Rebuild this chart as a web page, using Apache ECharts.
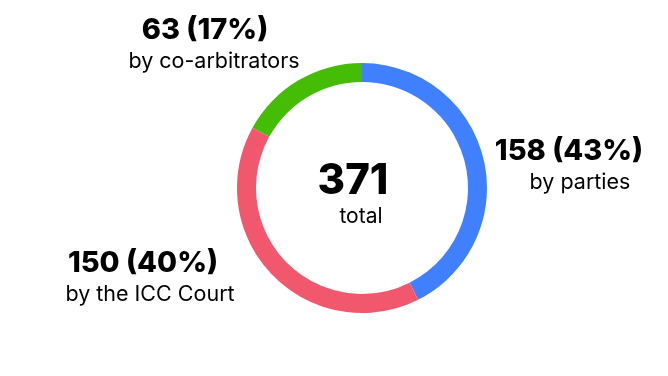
<!DOCTYPE html>
<html>
<head>
<meta charset="utf-8">
<script src="https://cdn.jsdelivr.net/npm/echarts@6/dist/echarts.min.js"></script>
<style>html,body{margin:0;padding:0;background:#fff}#c{width:668px;height:376px}</style>
</head>
<body>
<div id="c"></div>
<script>
const categories = ['by parties', 'by the ICC Court', 'by co-arbitrators'];
const values = [158, 150, 63];
const percents = [43, 40, 17];
const colors = ['#4080FF', '#F2586D', '#45BC06'];
const totalLabel = 'total';

const labelPos = [
  {x: 569, y: 164},
  {x: 143, y: 276},
  {x: 205, y: 43}
];
const nameShift = [22, 14, 18];
const FONT = 'Inter';
const total = values.reduce((a, b) => a + b, 0);

const rich = {v: {fontFamily: FONT, fontWeight: 800, fontSize: 29, lineHeight: 38, color: '#000', align: 'center'}};
nameShift.forEach((s, i) => {
  rich['n' + i] = {fontFamily: FONT, fontSize: 21.5, lineHeight: 26, color: '#000', align: 'center', padding: [0, 0, 0, s]};
});

const chart = echarts.init(document.getElementById('c'));
chart.setOption({
  animation: false,
  graphic: [
    {type: 'text', x: 353, y: 181, style: {text: String(total), fontFamily: FONT, fontWeight: 800, fontSize: 42, fill: '#000', align: 'center', verticalAlign: 'middle'}},
    {type: 'text', x: 361, y: 217, style: {text: totalLabel, fontFamily: FONT, fontSize: 21, fill: '#000', align: 'center', verticalAlign: 'middle'}}
  ],
  series: [{
    type: 'pie',
    center: [362, 188],
    radius: [106, 125],
    startAngle: 90,
    clockwise: true,
    silent: true,
    labelLine: {show: false},
    label: {
      show: true,
      overflow: 'none',
      formatter: p => '{v|' + p.value + ' (' + percents[p.dataIndex] + '%)}\n{n' + p.dataIndex + '|' + p.name + '}',
      rich: rich
    },
    labelLayout: p => ({x: labelPos[p.dataIndex].x, y: labelPos[p.dataIndex].y, align: 'center', verticalAlign: 'middle'}),
    data: categories.map((c, i) => ({name: c, value: values[i], itemStyle: {color: colors[i]}}))
  }]
});
</script>
</body>
</html>
